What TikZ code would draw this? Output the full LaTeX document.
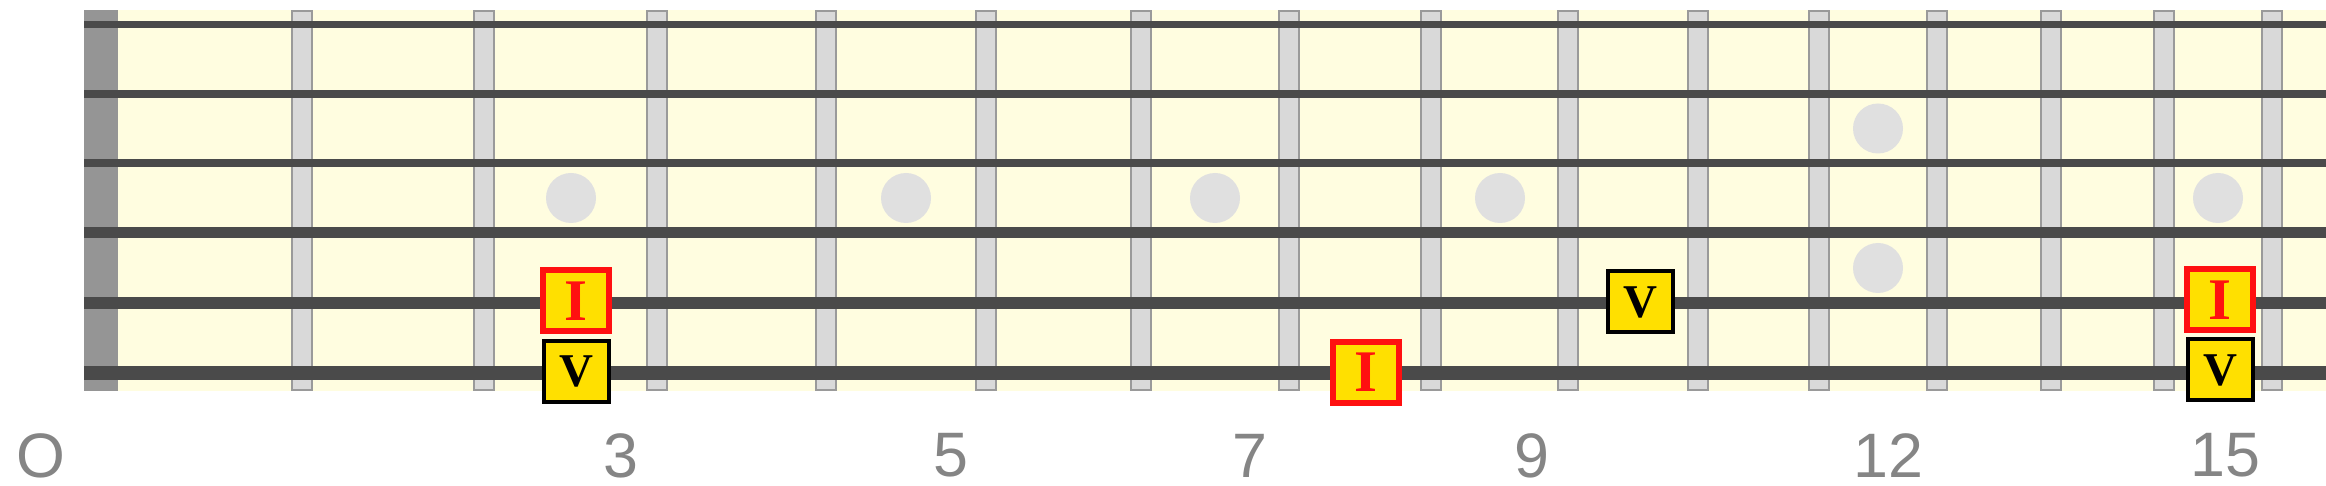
\documentclass[tikz,border=0pt]{standalone}
\usepackage{fontspec}
\setmainfont{Liberation Serif}
\newfontfamily\numfont{Liberation Sans}
\usepackage{tikz}
\definecolor{boardcol}{HTML}{FFFDE0}
\definecolor{nutcol}{HTML}{959595}
\definecolor{strcol}{HTML}{4A4A4A}
\definecolor{fretfill}{HTML}{D9D9D9}
\definecolor{fretedge}{HTML}{9A9A9A}
\definecolor{dotcol}{HTML}{E0E0E0}
\definecolor{boxfill}{HTML}{FFE000}
\definecolor{rootred}{HTML}{FF1010}
\definecolor{numcol}{HTML}{858585}

\begin{document}
\begin{tikzpicture}[x=0.5pt,y=-0.5pt,
  fretbar/.style={fill=fretfill,draw=fretedge,line width=1pt},
  gtrstring/.style={draw=strcol},
  inlay/.style={fill=dotcol},
  rootbox/.style={rectangle,fill=boxfill,draw=rootred,line width=3pt,inner sep=0pt,
    minimum width=33pt,minimum height=30.5pt,text=rootred,font=\fontsize{29.5}{30}\selectfont\bfseries},
  fifthbox/.style={rectangle,fill=boxfill,draw=black,line width=2pt,inner sep=0pt,
    minimum width=32.5pt,minimum height=30.5pt,text=black,font=\fontsize{23.5}{24}\selectfont\bfseries},
  fretnum/.style={inner sep=0pt,text=numcol,font=\fontsize{31.4}{32}\selectfont\numfont}]
\useasboundingbox (0,0) rectangle (2326,486);
% board and nut
\fill[boardcol] (84,10) rectangle (2326,391);
\fill[nutcol] (84,10) rectangle (118,391);
% frets
\draw[fretbar] (292,11) rectangle (312,390);
\draw[fretbar] (474,11) rectangle (494,390);
\draw[fretbar] (647,11) rectangle (667,390);
\draw[fretbar] (816,11) rectangle (836,390);
\draw[fretbar] (976,11) rectangle (996,390);
\draw[fretbar] (1131,11) rectangle (1151,390);
\draw[fretbar] (1279,11) rectangle (1299,390);
\draw[fretbar] (1421,11) rectangle (1441,390);
\draw[fretbar] (1558,11) rectangle (1578,390);
\draw[fretbar] (1688,11) rectangle (1708,390);
\draw[fretbar] (1809,11) rectangle (1829,390);
\draw[fretbar] (1927,11) rectangle (1947,390);
\draw[fretbar] (2041,11) rectangle (2061,390);
\draw[fretbar] (2154,11) rectangle (2174,390);
\draw[fretbar] (2262,11) rectangle (2282,390);
% inlays
\fill[inlay] (571,198) circle (25);
\fill[inlay] (906,198) circle (25);
\fill[inlay] (1215,198) circle (25);
\fill[inlay] (1500,198) circle (25);
\fill[inlay] (1878,128.5) circle (25);
\fill[inlay] (1878,268) circle (25);
\fill[inlay] (2218,198) circle (25);
% strings
\draw[gtrstring,line width=3.5pt] (84,24.5) -- (2326,24.5);
\draw[gtrstring,line width=4pt] (84,94) -- (2326,94);
\draw[gtrstring,line width=4pt] (84,163) -- (2326,163);
\draw[gtrstring,line width=5.5pt] (84,232.5) -- (2326,232.5);
\draw[gtrstring,line width=6pt] (84,303) -- (2326,303);
\draw[gtrstring,line width=7pt] (84,373) -- (2326,373);
% notes
\node[rootbox] (r3) at (576,301) {I};
\node[fifthbox] (f3) at (576,371.5) {V};
\node[rootbox] (r8) at (1366,372.5) {I};
\node[fifthbox] (f10) at (1640,302) {V};
\node[rootbox] (r15) at (2220,300) {I};
\node[fifthbox] (f15) at (2220,370) {V};
% fret numbers
\node[fretnum] (n0) at (40.5,455.5) {O};
\node[fretnum] (n3) at (621,455.5) {3};
\node[fretnum] (n5) at (951,455.5) {5};
\node[fretnum] (n7) at (1250,455.5) {7};
\node[fretnum] (n9) at (1532,455.5) {9};
\node[fretnum] (n12) at (1888,455.5) {12};
\node[fretnum] (n15) at (2225,455.5) {15};
\end{tikzpicture}
\end{document}
